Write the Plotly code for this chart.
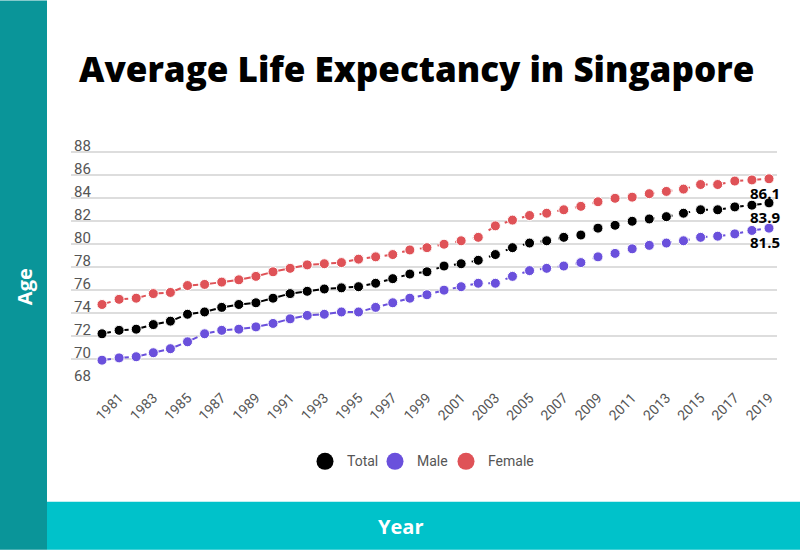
import plotly.graph_objects as go

years = list(range(1980, 2020))
total = [72.2, 72.5, 72.6, 73.0, 73.3, 73.9, 74.1, 74.5, 74.75, 74.9, 75.3, 75.7, 75.9,
         76.1, 76.2, 76.3, 76.6, 77.0, 77.4, 77.6, 78.1, 78.3, 78.6, 79.1, 79.7, 80.1, 80.3,
         80.6, 80.8, 81.4, 81.65, 82.0, 82.2, 82.4, 82.7, 83.0, 83.0, 83.25, 83.4, 83.6]
male = [69.9, 70.1, 70.2, 70.55, 70.9, 71.5, 72.2, 72.5, 72.6, 72.8, 73.1, 73.5, 73.8,
        73.9, 74.1, 74.1, 74.5, 74.9, 75.3, 75.6, 76.0, 76.3, 76.6, 76.6, 77.2, 77.7, 77.9,
        78.1, 78.4, 78.9, 79.2, 79.6, 79.9, 80.1, 80.3, 80.6, 80.7, 80.9, 81.2, 81.4]
female = [74.75, 75.2, 75.3, 75.7, 75.8, 76.4, 76.5, 76.7, 76.9, 77.2, 77.6, 77.9, 78.2,
          78.3, 78.4, 78.7, 78.9, 79.1, 79.5, 79.7, 80.0, 80.3, 80.6, 81.6, 82.1, 82.5, 82.7,
          83.0, 83.3, 83.7, 84.0, 84.1, 84.4, 84.6, 84.8, 85.2, 85.2, 85.5, 85.6, 85.7]
end_labels = {"Female": "86.1", "Total": "83.9", "Male": "81.5"}
x_ticks = list(range(1981, 2020, 2))
y_ticks = list(range(68, 89, 2))

series = [("Total", total, "#000000"), ("Male", male, "#6A50DC"), ("Female", female, "#DF5257")]

W, H = 800, 550
PXU = 11.5
Y_TOP = 89.6
L, R, B = 71, 777, 382
T = B - (Y_TOP - 68) * PXU


def px_x(p):
    return (p - L) / (R - L)


def px_y(p):
    return (B - p) / (B - T)


fig = go.Figure()
for name, vals, col in series:
    fig.add_trace(go.Scatter(
        x=years, y=vals, mode="lines+markers", name=name, showlegend=False,
        line=dict(color=col, width=2, dash="dash"),
        marker=dict(color=col, size=10, line=dict(color="white", width=1)),
    ))

annotations = []
shapes = [
    dict(type="rect", xref="paper", yref="paper", x0=px_x(0), x1=px_x(47),
         y0=px_y(0), y1=px_y(H), fillcolor="#0A9599", line=dict(width=0), layer="below"),
    dict(type="rect", xref="paper", yref="paper", x0=px_x(47), x1=px_x(W),
         y0=px_y(502), y1=px_y(H), fillcolor="#00C2CA", line=dict(width=0), layer="below"),
]

for name, vals, col in series:
    annotations.append(dict(
        x=years[-1], y=vals[-1], xref="x", yref="y", text=end_labels[name],
        showarrow=False, yshift=-14, xshift=-4,
        font=dict(family="Open Sans", size=15, color="#000000", weight=700),
    ))

# manual legend
legend_marker_px = [325, 395, 466]
for (name, vals, col), mx in zip(series, legend_marker_px):
    shapes.append(dict(
        type="circle", xref="paper", yref="paper", xsizemode="pixel", ysizemode="pixel",
        xanchor=px_x(mx), yanchor=px_y(461.5), x0=-8.5, x1=8.5, y0=-8.5, y1=8.5,
        fillcolor=col, line=dict(width=0),
    ))
    annotations.append(dict(
        x=px_x(mx + 20), y=px_y(461.5), xref="paper", yref="paper", text=name,
        showarrow=False, xanchor="left", yanchor="middle",
        font=dict(family="Roboto", size=14, color="#555555"),
    ))

annotations.append(dict(
    x=px_x(416), y=px_y(68), xref="paper", yref="paper",
    text="Average Life Expectancy in Singapore", showarrow=False,
    xanchor="center", yanchor="middle",
    font=dict(family="Open Sans", size=35, color="#000000", weight=800),
))
annotations.append(dict(
    x=px_x(24), y=px_y(287), xref="paper", yref="paper", text="Age",
    showarrow=False, textangle=-90, xanchor="center", yanchor="middle",
    font=dict(family="Open Sans", size=20, color="white", weight=700),
))
annotations.append(dict(
    x=px_x(400), y=px_y(527), xref="paper", yref="paper", text="Year",
    showarrow=False, xanchor="center", yanchor="middle",
    font=dict(family="Open Sans", size=20, color="white", weight=700),
))

fig.update_layout(
    width=W, height=H,
    margin=dict(l=L, r=W - R, t=T, b=H - B, pad=0),
    paper_bgcolor="white", plot_bgcolor="white",
    showlegend=False,
    xaxis=dict(
        range=[1980 - 31 / 17.103, 2019 + 8 / 17.103], tickvals=x_ticks,
        ticktext=[str(v) for v in x_ticks], tickangle=-45, showgrid=False,
        zeroline=False, showline=False, ticks="", ticklabelstandoff=4,
        tickfont=dict(family="Roboto", size=14, color="#555555"),
    ),
    yaxis=dict(
        range=[68, Y_TOP], tickvals=y_ticks, showgrid=True, gridcolor="#DDDDDD",
        gridwidth=1.5, zeroline=False, showline=False, ticks="",
        ticklabelposition="inside top", ticklabeloverflow="allow",
        ticklabelshift=4, ticklabelstandoff=0,
        tickfont=dict(family="Roboto", size=15, color="#555555"),
    ),
    annotations=annotations,
    shapes=shapes,
)

fig.write_html("out.html")
